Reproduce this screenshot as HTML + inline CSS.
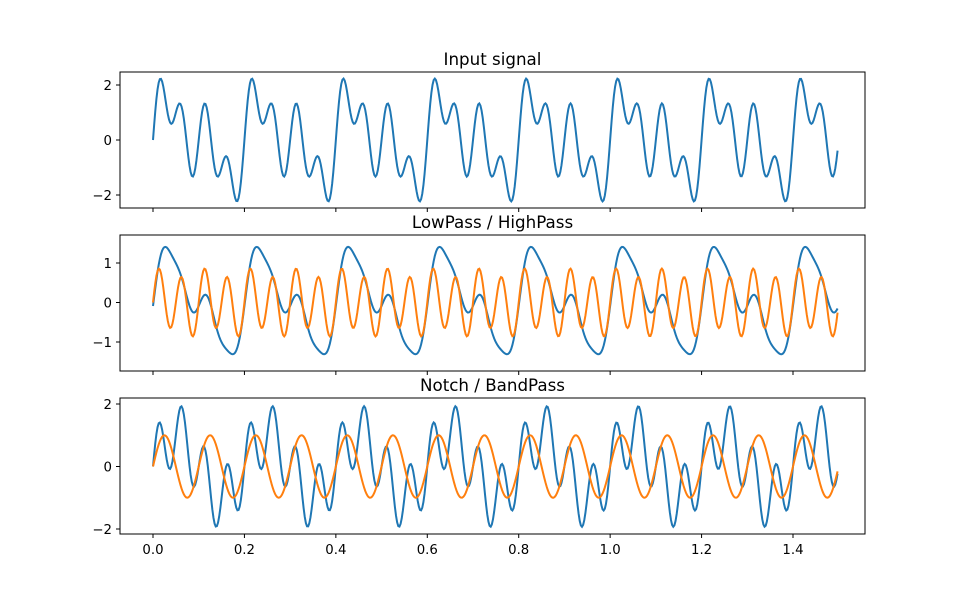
<!DOCTYPE html>
<html><head><meta charset="utf-8"><style>
body{margin:0;background:#fff;font-family:"DejaVu Sans","Liberation Sans",sans-serif}
</style></head><body>
<svg id="chart" width="960" height="600" xmlns="http://www.w3.org/2000/svg" font-family="DejaVu Sans, Liberation Sans, sans-serif"></svg>
<script>
// Component data (Hz, amplitude, phase-in-cycles)
const inputFreqs = [5, 10, 20];
const inputAmps = [1.0, 1.0, 1.0];
const inputPhases = [0, 0, 0];
const lowFreqs = [5, 10, 20];
const lowAmps = [1.0, 0.65, 0.15];
const lowPhases = [0, -0.01, -0.05];
const highFreqs = [10, 20];
const highAmps = [0.15, 0.75];
const highPhases = [0, 0];
const notchFreqs = [5, 20];
const notchAmps = [1.0, 1.0];
const notchPhases = [0, 0];
const bandFreqs = [10];
const bandAmps = [1.0];
const bandPhases = [0];
const tStart = 0, tEnd = 1.4975;
const xTicks = [0, 0.2, 0.4, 0.6, 0.8, 1.0, 1.2, 1.4];
const xTickLabels = ["0.0","0.2","0.4","0.6","0.8","1.0","1.2","1.4"];
const yTicks1 = [-2, 0, 2];
const yTicks2 = [-1, 0, 1];
const yTicks3 = [-2, 0, 2];
const titles = ["Input signal", "LowPass / HighPass", "Notch / BandPass"];

const svg = document.getElementById('chart');
const NS = 'http://www.w3.org/2000/svg';
function mk(tag, attrs){const e=document.createElementNS(NS,tag);for(const k in attrs)e.setAttribute(k,attrs[k]);svg.appendChild(e);return e;}
const L=120,R=865;
const xScale = v => 153 + (v - 0) * (793 - 153) / 1.4;
function synth(f,a,p){const pts=[];const N=600;for(let i=0;i<=N;i++){const t=tStart+(tEnd-tStart)*i/N;let s=0;for(let k=0;k<f.length;k++)s+=a[k]*Math.sin(2*Math.PI*(f[k]*t+p[k]));pts.push([t,s]);}return pts;}
const panels=[
 {top:72,bot:208,y0:140,k:27.5,ticks:yTicks1,series:[[inputFreqs,inputAmps,inputPhases,'#1f77b4','input-signal-line']]},
 {top:235,bot:371,y0:302.5,k:39.5,ticks:yTicks2,series:[[lowFreqs,lowAmps,lowPhases,'#1f77b4','lowpass-line'],[highFreqs,highAmps,highPhases,'#ff7f0e','highpass-line']]},
 {top:398,bot:534,y0:466.5,k:31.25,ticks:yTicks3,series:[[notchFreqs,notchAmps,notchPhases,'#1f77b4','notch-line'],[bandFreqs,bandAmps,bandPhases,'#ff7f0e','bandpass-line']]}
];
panels.forEach((P,pi)=>{
 const yS=v=>P.y0-v*P.k;
 const t=mk('text',{x:(L+R)/2,y:P.top-7,'text-anchor':'middle','font-size':16.7,fill:'#000'});
 t.textContent=titles[pi];
 
 
 P.series.forEach(s=>{
  const d=synth(s[0],s[1],s[2]).map((q,i)=>(i?'L':'M')+xScale(q[0]).toFixed(2)+','+yS(q[1]).toFixed(2)).join('');
  const path=mk('path',{d:d,fill:'none',stroke:s[3],'stroke-width':2});
  
  
 });
 const fr=mk('rect',{x:L,y:P.top,width:R-L,height:P.bot-P.top,fill:'none',stroke:'#000','stroke-width':1});
 
 
 P.ticks.forEach(v=>{
  mk('line',{x1:L-4,x2:L,y1:yS(v),y2:yS(v),stroke:'#000'});
  const lb=mk('text',{x:L-8,y:yS(v)+5,'text-anchor':'end','font-size':13.3});
  lb.textContent=v<0?'\u2212'+(-v):String(v);
  
  
 });
 xTicks.forEach((v,i)=>{
  mk('line',{x1:xScale(v),x2:xScale(v),y1:P.bot,y2:P.bot+4,stroke:'#000'});
  if(pi===2){
   const lb=mk('text',{x:xScale(v),y:P.bot+20,'text-anchor':'middle','font-size':13.3});
   lb.textContent=xTickLabels[i];
   
   
  }
 });
});
</script>
</body></html>
